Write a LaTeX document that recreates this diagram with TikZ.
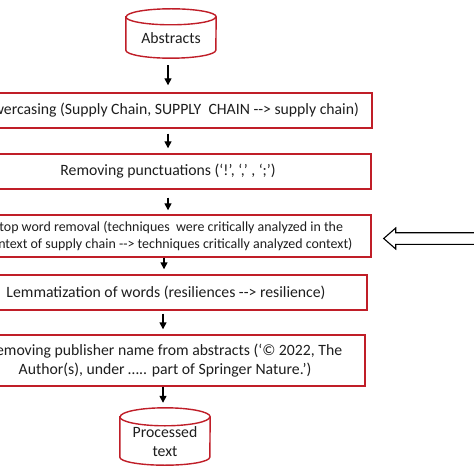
\documentclass[tikz,border=0pt]{standalone}
\usepackage{fontspec}
\setmainfont{Carlito}
\usetikzlibrary{arrows.meta,calc}
\definecolor{boxred}{RGB}{192,30,40}
\definecolor{txt}{RGB}{30,30,30}
\begin{document}
\begin{tikzpicture}[x=1bp,y=-1bp,
  box/.style={draw=boxred,line width=1.4bp,fill=white,inner sep=0pt,align=center,text=txt,
    font=\fontsize{15.8}{19}\selectfont},
  smallbox/.style={box,font=\fontsize{14}{17}\selectfont},
  cylbox/.style={inner sep=0pt,draw=none},
  cyltext/.style={inner sep=0pt,align=center,text=txt,font=\fontsize{15.8}{19}\selectfont},
  cylline/.style={draw=boxred,line width=1.4bp,fill=white},
  arr/.style={-{Triangle[width=7bp,length=7bp]},line width=1.4bp,black},
  hollow/.style={draw=black,line width=1.1bp,fill=white,line join=miter}
]
\useasboundingbox (0,0) rectangle (474,474);
\clip (0,0) rectangle (474,474);
\fill[white] (0,0) rectangle (474,474);

% cylinders
\node[cylbox,minimum width=90bp,minimum height=49bp] (abs) at (171,33.5) {};
\draw[cylline] ($(abs.north west)+(0,8)$) -- ($(abs.south west)+(0,-8)$)
  arc[start angle=180,end angle=0,x radius=45,y radius=8]
  -- ($(abs.north east)+(0,8)$)
  arc[start angle=0,end angle=-180,x radius=45,y radius=8] -- cycle;
\draw[cylline,fill=none] ($(abs.north west)+(0,8)$) arc[start angle=180,end angle=0,x radius=45,y radius=8];
\node[cyltext] (abst) at (171,38.5) {Abstracts};

\node[cylbox,minimum width=90bp,minimum height=57bp] (proc) at (165,436.5) {};
\draw[cylline] ($(proc.north west)+(0,9)$) -- ($(proc.south west)+(0,-8)$)
  arc[start angle=180,end angle=0,x radius=45,y radius=8]
  -- ($(proc.north east)+(0,9)$)
  arc[start angle=0,end angle=-180,x radius=45,y radius=9] -- cycle;
\draw[cylline,fill=none] ($(proc.north west)+(0,9)$) arc[start angle=180,end angle=0,x radius=45,y radius=9];
\node[cyltext] (proct) at (165,441.5) {Processed\\text};

% boxes
\node[box,minimum width=407bp,minimum height=35bp] (b1) at (168.5,110.5)
  {Lowercasing (Supply Chain, SUPPLY\ \ CHAIN -{}-> supply chain)};
\node[box,minimum width=406bp,minimum height=35bp] (b2) at (168,171.5)
  {Removing punctuations (‘!’, ‘,’ , ‘;’)};
\node[smallbox,minimum width=406bp,minimum height=42bp] (b3) at (168,236)
  {Stop word removal (techniques\ \ were critically analyzed in the\\
   Context of supply chain -{}-> techniques critically analyzed context)};
\node[box,minimum width=402bp,minimum height=35bp] (b4) at (166,292.5)
  {Lemmatization of words (resiliences -{}-> resilience)};
\node[box,minimum width=400bp,minimum height=51bp] (b5) at (165,360.5)
  {Removing publisher name from abstracts (‘© 2022, The\\
   Author(s), under ….. part of Springer Nature.’)};

% arrows
\draw[arr] ($(abs.south)+(-3,7)$) -- ($(b1.north)+(-0.5,-7)$);
\draw[arr] ($(b1.south)+(-0.5,5)$) -- ($(b2.north)+(0,-5)$);
\draw[arr] ($(b2.south)+(0,8)$) -- ($(b3.north)+(0,-4)$);
\draw[arr] ($(b3.south)+(-4,0)$) -- ($(b4.north)+(-2,-5)$);
\draw[arr] ($(b4.south)+(-3,3)$) -- ($(b5.north)+(-2,-5)$);
\draw[arr] ($(b5.south)+(-2,0)$) -- ($(proc.north)+(-2,-5)$);

% hollow arrow pointing at stop-word box
\coordinate (tip) at ($(b3.east)+(12,2.5)$);
\draw[hollow] (tip) -- ++(12,-10.5) -- ++(0,4.7) -- ++(100,0) -- ++(0,11.6)
  -- ++(-100,0) -- ++(0,4.7) -- cycle;
\end{tikzpicture}
\end{document}
